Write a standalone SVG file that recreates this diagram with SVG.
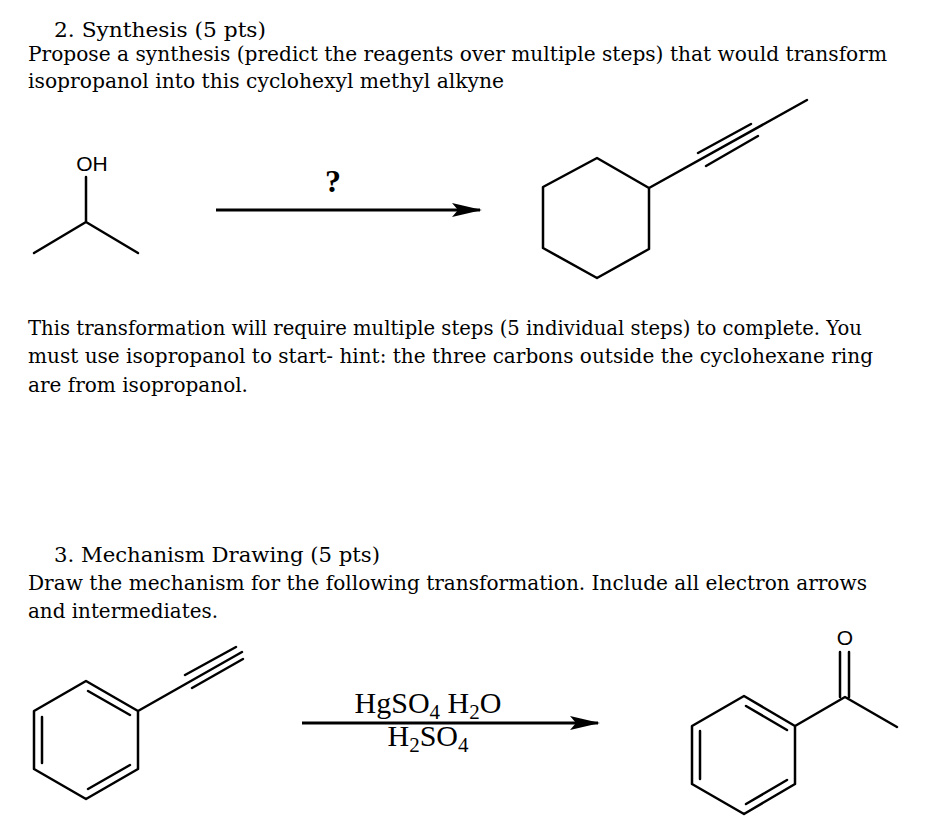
<svg xmlns="http://www.w3.org/2000/svg" width="925" height="830" viewBox="0 0 925 830">
<style>
.t{font-family:"DejaVu Serif","Liberation Serif",serif;font-size:20px;fill:#000}
.b{stroke:#000;stroke-width:2.5;fill:none;stroke-linecap:round;stroke-linejoin:round}
.r{font-family:"Liberation Serif",serif;font-size:30px;fill:#000}
.s{font-family:"Liberation Sans",sans-serif;font-size:21px;fill:#000}
</style>
<defs>
<marker id="ah2" markerWidth="30" markerHeight="14" refX="28" refY="7" orient="auto" markerUnits="userSpaceOnUse"><path d="M0,0 L30,7 L0,14 L6,7 Z" fill="#000"/></marker></defs>
<g id="text">
<text class="t" x="54" y="37" textLength="212" lengthAdjust="spacingAndGlyphs">2. Synthesis (5 pts)</text>
<text class="t" x="28" y="61" textLength="859" lengthAdjust="spacingAndGlyphs">Propose a synthesis (predict the reagents over multiple steps) that would transform</text>
<text class="t" x="28" y="88" textLength="476" lengthAdjust="spacingAndGlyphs">isopropanol into this cyclohexyl methyl alkyne</text>
<text class="t" x="28" y="335" textLength="834" lengthAdjust="spacingAndGlyphs">This transformation will require multiple steps (5 individual steps) to complete. You</text>
<text class="t" x="28" y="363" textLength="845" lengthAdjust="spacingAndGlyphs">must use isopropanol to start- hint: the three carbons outside the cyclohexane ring</text>
<text class="t" x="28" y="392" textLength="220" lengthAdjust="spacingAndGlyphs">are from isopropanol.</text>
<text class="t" x="54" y="562" textLength="326" lengthAdjust="spacingAndGlyphs">3. Mechanism Drawing (5 pts)</text>
<text class="t" x="28" y="590" textLength="839" lengthAdjust="spacingAndGlyphs">Draw the mechanism for the following transformation. Include all electron arrows</text>
<text class="t" x="28" y="618" textLength="190" lengthAdjust="spacingAndGlyphs">and intermediates.</text>
</g>
<g id="isopropanol">
<text class="s" x="92" y="171" text-anchor="middle">OH</text>
<path class="b" d="M86,177 V222 M34,253 L86,222 L138,253"/>
</g>
<g id="cyclohexylalkyne">
<path class="b" d="M597,158 L649,188 L649,249 L597,278 L543,248 L543,187 Z M649,188 L807,100 M698,153 L751,124 M706,166 L758,136"/>
</g>
<g id="phenylacetylene">
<path class="b" d="M86,681 L138,711 L138,769 L86,799 L34,769 L34,711 Z M138,711 L242,652 M185,675 L236,647 M192,688 L243,659 M42,717 V763 M88,691 L130,715 M88,789 L130,765"/>
</g>
<g id="acetophenone">
<path class="b" d="M744,696 L795,726 L795,784 L744,814 L692,784 L692,726 Z M795,726 L845,697 L897,727 M840,697 V652 M849,697 V652 M700,731 V779 M746,706 L787,730 M746,804 L787,780"/>
<text class="s" x="845" y="645" text-anchor="middle">O</text>
</g>
<g id="connectors">
<line x1="216" y1="210" x2="480" y2="210" stroke="#000" stroke-width="3" marker-end="url(#ah2)"/>
<text x="333" y="192" text-anchor="middle" style="font-family:'Liberation Serif',serif;font-size:32px;font-weight:bold">?</text>
<line x1="302" y1="723" x2="598" y2="723" stroke="#000" stroke-width="3" marker-end="url(#ah2)"/>
<text class="r" x="428" y="713" text-anchor="middle">HgSO<tspan font-size="21" dy="6">4</tspan><tspan dy="-6"> H</tspan><tspan font-size="21" dy="6">2</tspan><tspan dy="-6">O</tspan></text>
<text class="r" x="428" y="746" text-anchor="middle">H<tspan font-size="21" dy="6">2</tspan><tspan dy="-6">SO</tspan><tspan font-size="21" dy="6">4</tspan></text>
</g>
</svg>
